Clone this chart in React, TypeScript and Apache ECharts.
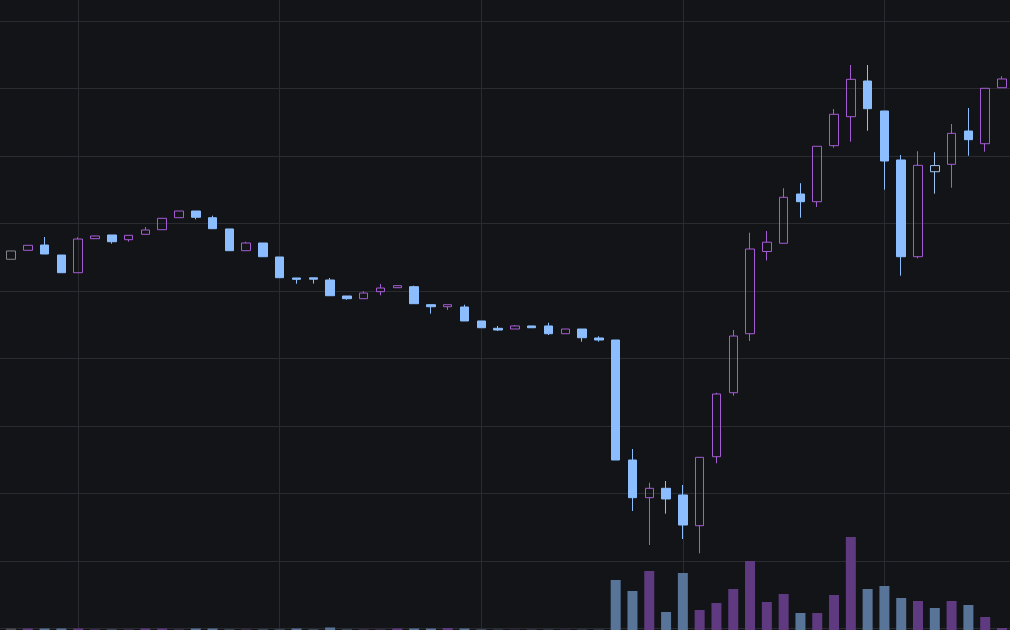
import React, { useEffect, useRef } from "react";
import * as echarts from "echarts";

const BG = "#131418";
const GRID = "#2a2b30";
const UP = "#a45cd2";
const DOWN = "#8cbeff";
const VOL_UP = "#5f3a80";
const VOL_DOWN = "#587499";

const categories: string[] = Array.from({ length: 60 }, (_, i) => `D${i + 1}`);

// [open, close, low, high]
const opens = [154.70, 156.03, 156.81, 155.33, 152.71, 157.75, 158.30, 157.60, 158.40, 159.08, 160.86, 161.85, 160.86, 159.19, 155.97, 157.11, 155.04, 151.93, 151.95, 151.63, 149.26, 148.86, 149.90, 150.49, 150.64, 147.97, 147.67, 147.63, 145.56, 144.47, 144.37, 144.82, 144.82, 143.67, 144.37, 143.04, 142.74, 124.96, 119.38, 120.77, 119.78, 115.23, 125.45, 134.93, 143.67, 155.85, 157.07, 164.37, 163.23, 171.53, 175.82, 181.11, 176.67, 169.41, 155.08, 167.67, 168.77, 173.70, 171.82, 180.12];
const closes = [155.93, 156.77, 155.48, 152.71, 157.70, 158.15, 157.30, 158.25, 159.04, 160.77, 161.85, 160.92, 159.23, 155.97, 157.11, 155.08, 151.97, 151.73, 151.75, 149.30, 148.86, 149.70, 150.44, 150.79, 148.12, 147.67, 147.97, 145.56, 144.56, 144.22, 144.82, 144.56, 143.67, 144.37, 143.08, 142.74, 124.96, 119.38, 120.77, 119.19, 115.33, 125.36, 134.74, 143.33, 156.22, 157.23, 163.88, 163.23, 171.44, 176.18, 181.36, 177.01, 169.26, 155.08, 168.62, 168.58, 173.36, 172.42, 180.03, 181.41];
const lows = [154.70, 156.03, 155.48, 152.71, 152.71, 157.75, 157.01, 157.30, 158.40, 159.08, 160.86, 160.62, 159.23, 155.97, 155.97, 155.08, 151.97, 151.08, 151.10, 149.30, 148.71, 148.86, 149.36, 150.44, 148.12, 146.64, 147.19, 145.56, 144.56, 144.07, 144.37, 144.56, 143.48, 143.67, 142.49, 142.49, 124.96, 117.41, 112.37, 117.01, 113.26, 111.14, 124.47, 134.49, 142.59, 154.52, 157.07, 160.86, 162.44, 171.23, 172.12, 173.75, 165.01, 152.27, 154.84, 164.42, 165.30, 170.04, 170.64, 180.12];
const highs = [155.93, 156.77, 158.00, 155.33, 157.96, 158.20, 158.30, 158.25, 159.48, 160.77, 161.85, 161.85, 161.16, 159.19, 157.30, 157.11, 155.04, 151.93, 151.95, 151.93, 149.26, 149.96, 151.04, 150.79, 150.79, 147.97, 147.97, 147.97, 145.56, 144.82, 144.96, 144.82, 145.30, 144.37, 144.37, 143.29, 142.74, 126.59, 121.60, 121.85, 121.26, 125.36, 134.93, 144.22, 158.64, 158.89, 165.23, 165.97, 171.44, 176.96, 183.48, 183.48, 176.67, 170.15, 170.70, 170.55, 174.74, 177.11, 180.03, 181.81];

const volumes = [15, 15, 15, 15, 15, 5, 5, 5, 15, 15, 5, 15, 15, 5, 5, 5, 5, 15, 5, 25, 5, 5, 5, 15, 15, 15, 20, 15, 5, 3, 3, 3, 3, 3, 3, 3, 500, 390, 590, 180, 570, 200, 270, 410, 690, 280, 360, 170, 170, 350, 930, 410, 440, 320, 290, 220, 290, 250, 130, 20];

// candles drawn in a special colour: index -> border colour
const specialBorder: Record<number, string> = { 0: "#85868c", 55: "#9fc3f0" };

const hidden = {
  axisLine: { show: false },
  axisTick: { show: false },
  axisLabel: { show: false },
  splitLine: { show: false },
};

export default function App() {
  const ref = useRef<HTMLDivElement>(null);
  useEffect(() => {
    if (!ref.current) return;
    const chart = echarts.init(ref.current, null, { renderer: "svg" });

    const candleData = categories.map((_, i) => {
      const up = closes[i] >= opens[i];
      const border = specialBorder[i] || (up ? UP : DOWN);
      const fill = specialBorder[i] || up ? "rgba(0,0,0,0)" : DOWN;
      return {
        value: [opens[i], closes[i], lows[i], highs[i]],
        itemStyle: {
          color: fill,
          color0: fill,
          borderColor: border,
          borderColor0: border,
          borderWidth: 1,
        },
      };
    });
    const volData = categories.map((_, i) => {
      let c = closes[i] >= opens[i] ? VOL_UP : VOL_DOWN;
      if (i === 0) c = "#4a4b52";
      if (i === 55) c = VOL_DOWN;
      return { value: volumes[i], itemStyle: { color: c } };
    });

    chart.setOption({
      animation: false,
      backgroundColor: BG,
      grid: [
        { left: 11, right: 8, top: 21, bottom: 1.5, outerBoundsMode: "none" },
        { left: 11, right: 8, top: 530, bottom: 0, outerBoundsMode: "none" },
        { left: 0, right: 0, top: 21, bottom: 1.5, outerBoundsMode: "none" },
        { left: 11, right: 8, top: 0, bottom: 0, outerBoundsMode: "none" },
      ],
      xAxis: [
        { type: "category", gridIndex: 0, data: categories, boundaryGap: false, ...hidden },
        { type: "category", gridIndex: 1, data: categories, boundaryGap: false, ...hidden },
        { type: "value", gridIndex: 2, min: 0, max: 1, ...hidden },
        {
          type: "category",
          gridIndex: 3,
          data: categories,
          boundaryGap: false,
          axisLine: { show: false },
          axisTick: { show: false },
          axisLabel: { show: false },
          splitLine: {
            show: true,
            interval: (i: number) => i % 12 === 4,
            lineStyle: { color: GRID, width: 1 },
          },
        },
      ],
      yAxis: [
        { type: "value", gridIndex: 0, min: 100, max: 190, interval: 10, ...hidden },
        { type: "value", gridIndex: 1, min: 0, max: 1000, ...hidden },
        {
          type: "value",
          gridIndex: 2,
          min: 100,
          max: 190,
          interval: 10,
          axisLine: { show: false },
          axisTick: { show: false },
          axisLabel: { show: false },
          splitLine: { show: true, lineStyle: { color: GRID, width: 1 } },
        },
        { type: "value", gridIndex: 3, min: 0, max: 1, ...hidden },
      ],
      series: [
        {
          type: "bar",
          xAxisIndex: 1,
          yAxisIndex: 1,
          data: volData,
          barWidth: 10,
          clip: false,
          z: 3,
        },
        {
          type: "candlestick",
          xAxisIndex: 0,
          yAxisIndex: 0,
          data: candleData,
          barWidth: 9,
          clip: false,
          z: 4,
          itemStyle: {
            color: "rgba(0,0,0,0)",
            color0: DOWN,
            borderColor: UP,
            borderColor0: DOWN,
            borderWidth: 1,
          },
        },
      ],
    });
    return () => chart.dispose();
  }, []);
  return (
    <div
      ref={ref}
      style={{ position: "fixed", left: 0, top: 0, width: 1010, height: 630 }}
    />
  );
}
